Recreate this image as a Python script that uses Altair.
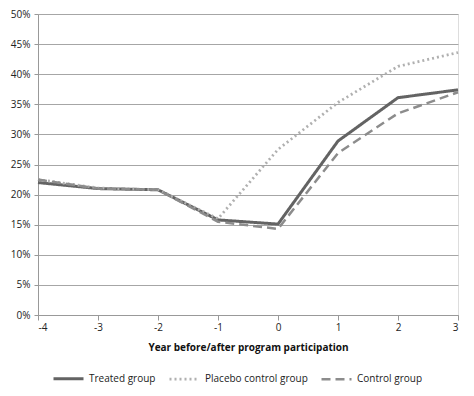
import altair as alt
import pandas as pd

years = [-4, -3, -2, -1, 0, 1, 2, 3]
treated = [22.0, 21.0, 20.8, 15.8, 15.1, 28.9, 36.1, 37.4]
placebo = [22.5, 21.1, 20.8, 16.0, 27.5, 35.3, 41.3, 43.6]
control = [22.5, 21.0, 20.8, 15.5, 14.3, 26.9, 33.5, 37.0]
groups = ["Treated group", "Placebo control group", "Control group"]

rows = []
for g, vals in zip(groups, [treated, placebo, control]):
    for yv, v in zip(years, vals):
        rows.append({"year": yv, "value": v / 100, "group": g})
df = pd.DataFrame(rows)

font = "Open Sans"
chart = alt.Chart(df).mark_line().encode(
    x=alt.X("year:Q", scale=alt.Scale(domain=[-4, 3], nice=False),
            axis=alt.Axis(values=years, labelExpr="replace(format(datum.value, 'd'), '−', '-')",
                          grid=False, title="Year before/after program participation",
                          titleFontWeight="bold", titleFontSize=10, titleFont=font, titlePadding=10,
                          labelFont=font, labelFontSize=10, labelColor="#222", titleColor="#111",
                          domainColor="#999", tickColor="#999", tickSize=5, labelPadding=2)),
    y=alt.Y("value:Q", scale=alt.Scale(domain=[0, 0.5], nice=False),
            axis=alt.Axis(values=[i / 100 for i in range(0, 51, 5)], format=".0%", title=None,
                          gridColor="#a6a6a6", gridWidth=1, domainColor="#999", tickColor="#999", tickSize=4,
                          labelFont=font, labelFontSize=10, labelColor="#222", labelPadding=4)),
    color=alt.Color("group:N", scale=alt.Scale(domain=groups, range=["#636363", "#b0b0b0", "#8c8c8c"]),
                    legend=alt.Legend(orient="none", legendX=14, legendY=348, direction="horizontal",
                                      title=None, symbolType="stroke", symbolSize=900, symbolStrokeWidth=3,
                                      labelFont=font, labelFontSize=10, labelColor="#222",
                                      columnPadding=8, labelOffset=4)),
    strokeDash=alt.StrokeDash("group:N", scale=alt.Scale(domain=groups, range=[[1, 0], [2, 3], [9, 5]])),
    strokeWidth=alt.StrokeWidth("group:N", scale=alt.Scale(domain=groups, range=[3, 2.5, 3]), legend=None),
).properties(
    width=420, height=301,
    autosize=alt.AutoSizeParams(type="none"),
    padding={"left": 30, "top": 6, "right": 8, "bottom": 73},
).configure_view(stroke=None).configure(background="white")

chart.save("out.html", embed_options={"renderer": "svg", "actions": False})
